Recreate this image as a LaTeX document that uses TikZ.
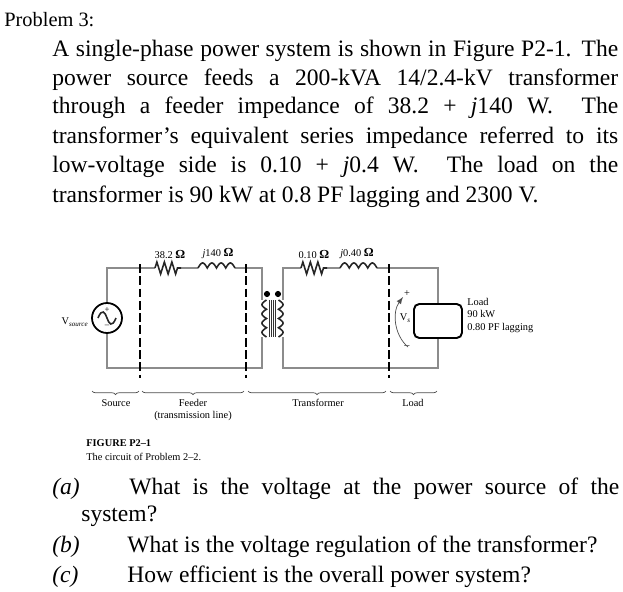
\documentclass[tikz,border=0pt]{standalone}
\usepackage{fontspec}
\setmainfont{Liberation Serif}
\usetikzlibrary{decorations.pathmorphing,decorations.pathreplacing}
\tikzset{
	textline/.style={anchor=base west,inner sep=0pt,font=\fontsize{13.4}{15}\selectfont},
	small/.style={inner sep=0pt,font=\fontsize{5.9}{7}\selectfont},
	wire/.style={draw=black!45,line width=.6pt},
	elem/.style={draw=black!85,line width=.9pt},
	cut/.style={draw=black,line width=1.5pt,dash pattern=on 5pt off 2pt},
	span/.style={draw=black!70,line width=.4pt,decorate,decoration={brace,amplitude=2pt}},
}
\newcommand{\fullline}[1]{\makebox[11.32cm][s]{#1}}
\newcommand{\ohm}{\textbf{\fontsize{7}{7}\selectfont Ω}}
\begin{document}
\begin{tikzpicture}[x=0.02cm,y=-0.02cm]
	\useasboundingbox (0,0) rectangle (623,592);

	% problem text
	\node[textline,font=\fontsize{11.6}{14}\selectfont] (title) at (4,26) {Problem 3:};
	\node[textline] (lineA) at (52,56) {\fullline{A single-phase power system is shown in Figure P2-1. The}};
	\node[textline] (lineB) at (52,85) {\fullline{power source feeds a 200-kVA 14/2.4-kV transformer}};
	\node[textline] (lineC) at (52,113) {\fullline{through a feeder impedance of 38.2 + \textit{j}140 W. \ The}};
	\node[textline] (lineD) at (52,143) {\fullline{transformer's equivalent series impedance referred to its}};
	\node[textline] (lineE) at (52,172) {\fullline{low-voltage side is 0.10 + \textit{j}0.4 W. \ The load on the}};
	\node[textline] (lineF) at (52,202) {transformer is 90 kW at 0.8 PF lagging and 2300 V.};

	% source
	\node[circle,draw=black,line width=1pt,minimum size=.6cm,inner sep=0pt] (src) at (107,318) {};
	\node[small,font=\fontsize{5}{6}\selectfont] (srcplus) at (107,310) {+};
	\node[small,font=\fontsize{5}{6}\selectfont] (srcminus) at (107,326) {--};
	\draw[elem] (98,318) .. controls (102,308) and (105,312) .. (107,318) .. controls (109,324) and (112,328) .. (116,318);
	\node[small,anchor=east] (vsource) at (88,322) {V\raisebox{-1pt}{\fontsize{4}{5}\selectfont\textit{source}}};

	% element ends
	\coordinate (raw) at (155,268);
	\coordinate (rae) at (181,268);
	\coordinate (law) at (198,268);
	\coordinate (lae) at (235,268);
	\coordinate (rbw) at (301,268);
	\coordinate (rbe) at (327,268);
	\coordinate (lbw) at (340,268);
	\coordinate (lbe) at (377,268);
	\coordinate (pt) at (262,300);
	\coordinate (pb) at (262,337);
	\coordinate (st) at (283,300);
	\coordinate (sb) at (283,337);

	% load
	\node[draw=black,line width=1.1pt,rounded corners=3pt,minimum width=.96cm,minimum height=.68cm,inner sep=0pt] (load) at (438,321) {};

	% wires
	\draw[wire] (src.north) |- (raw);
	\draw[wire] (rae) -- (law);
	\draw[wire] (lae) -| (pt);
	\draw[wire] (src.south) |- (262,368) -- (pb);
	\draw[wire] (st) |- (rbw);
	\draw[wire] (rbe) -- (lbw);
	\draw[wire] (lbe) -| (load.north);
	\draw[wire] (sb) |- (438,368) -- (load.south);

	% resistors
	\draw[elem,decorate,decoration={zigzag,amplitude=.12cm,segment length=.15cm}] (raw) -- (rae);
	\draw[elem,decorate,decoration={zigzag,amplitude=.12cm,segment length=.15cm}] (rbw) -- (rbe);

	% inductors
	\draw[elem] plot[domain=0:4,samples=61] ({198+\x*9.25},{268-5*abs(sin(\x*180))});
	\draw[elem] plot[domain=0:4,samples=61] ({340+\x*9.25},{268-5*abs(sin(\x*180))});

	% transformer
	\draw[elem] plot[domain=0:4,samples=61] ({262+4.5*(1-abs(sin(\x*180)))},{300+\x*9.25});
	\draw[elem] plot[domain=0:4,samples=61] ({283-4.5*(1-abs(sin(\x*180)))},{300+\x*9.25});
	\foreach \xc in {269.5,271.5,273.5,275.5}
		\draw[black!80,line width=.5pt] (\xc,300) -- (\xc,337);
	\node[circle,fill=black,minimum size=3.5pt,inner sep=0pt] (dota) at (267,294) {};
	\node[circle,fill=black,minimum size=3.5pt,inner sep=0pt] (dotb) at (278,294) {};

	% cuts
	\draw[cut] (140,264) -- (140,378);
	\draw[cut] (246,264) -- (246,378);
	\draw[cut] (389,264) -- (389,378);

	% element labels
	\node[small] (ra) at (170,254) {38.2 \ohm};
	\node[small] (la) at (218,254) {\textit{j}140 \ohm};
	\node[small] (rb) at (314,254) {0.10 \ohm};
	\node[small] (lb) at (357,254) {\textit{j}0.40 \ohm};

	% load voltage
	\node[small] (vplus) at (407,294) {+};
	\node[small] (vminus) at (407,347) {--};
	\node[small] (vs) at (405,318) {V\raisebox{-1pt}{\fontsize{4}{5}\selectfont\textit{s}}};
	\draw[black!70,line width=.4pt,-latex] (408,347) .. controls (394,335) and (392,312) .. (403,297);
	\node[small,anchor=west] (loada) at (467,302) {Load};
	\node[small,anchor=west] (loadb) at (467,314) {90 kW};
	\node[small,anchor=west] (loadc) at (467,328) {0.80 PF lagging};

	% spans
	\draw[span] (139,391) -- (92,391);
	\draw[span] (244,391) -- (142,391);
	\draw[span] (386,391) -- (248,391);
	\draw[span] (437,391) -- (390,391);
	\node[small] (spa) at (116,403) {Source};
	\node[small] (spb) at (193,403) {Feeder};
	\node[small] (spc) at (193,416) {(transmission line)};
	\node[small] (spd) at (318,403) {Transformer};
	\node[small] (spe) at (413,403) {Load};

	% caption
	\node[small,anchor=base west] (figa) at (86,446) {\textbf{FIGURE P2--1}};
	\node[small,anchor=base west] (figb) at (86,460) {The circuit of Problem 2--2.};

	% questions
	\node[textline] (qa) at (52,494) {\textit{(a)}};
	\node[textline] (qat) at (129,494) {\makebox[9.8cm][s]{What is the voltage at the power source of the}};
	\node[textline] (qas) at (81,521) {system?};
	\node[textline] (qb) at (52,552) {\textit{(b)}};
	\node[textline] (qbt) at (127,552) {What is the voltage regulation of the transformer?};
	\node[textline] (qc) at (52,582) {\textit{(c)}};
	\node[textline] (qct) at (127,582) {How efficient is the overall power system?};
\end{tikzpicture}
\end{document}
